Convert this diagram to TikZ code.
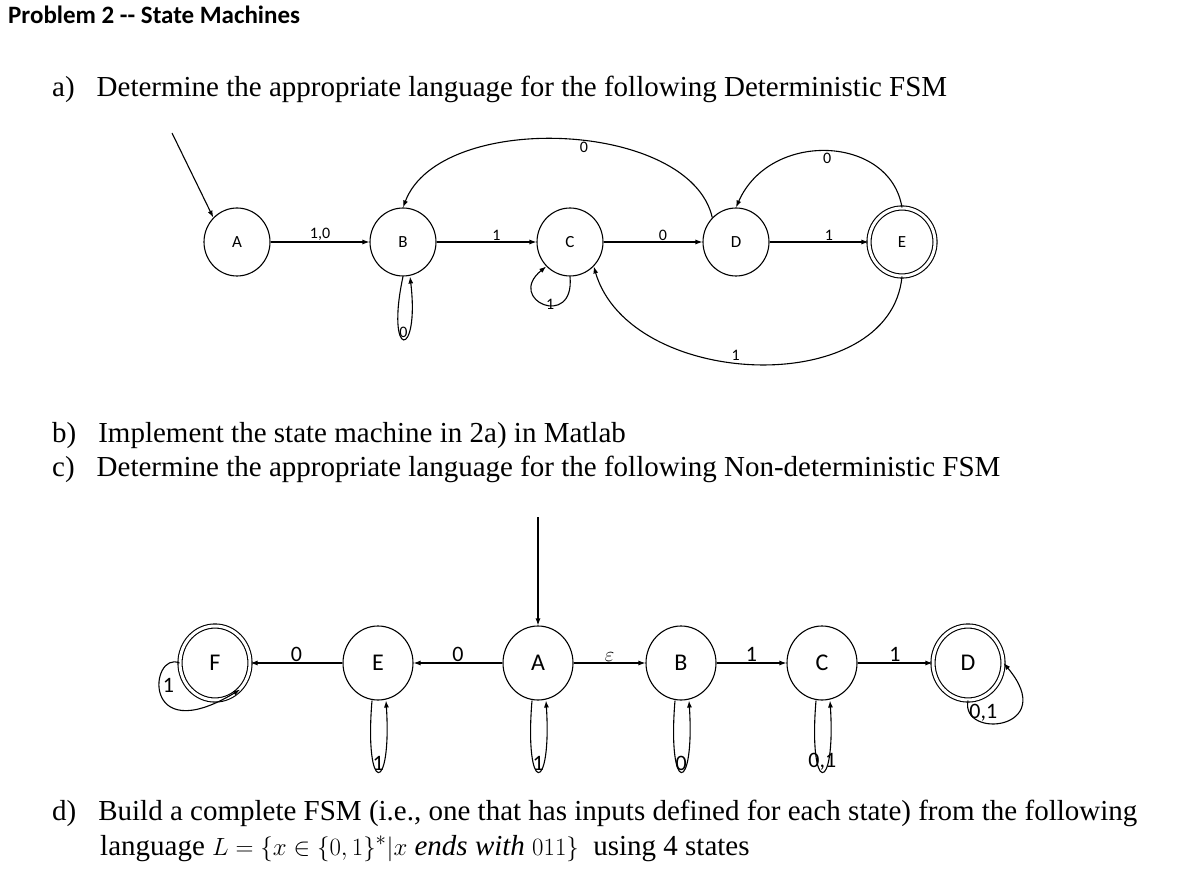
\documentclass[tikz,border=0pt]{standalone}
\usepackage{fontspec}
\setmainfont{Liberation Serif}
\newfontfamily\calfont{Carlito}
\usetikzlibrary{arrows.meta,shapes.geometric}
\begin{document}
\begin{tikzpicture}[x=1pt,y=-1pt,
  txt/.style={anchor=base west,inner sep=0,font=\fontsize{29}{32}\selectfont},
  st/.style={draw,ellipse,minimum width=66,minimum height=68,line width=1.1pt,inner sep=0,font=\calfont\fontsize{17}{18}\selectfont},
  st2/.style={draw,ellipse,minimum width=70,minimum height=74,line width=1.1pt,inner sep=0,font=\calfont\fontsize{24}{26}\selectfont},
  ed/.style={-{Latex[length=7pt,width=5pt]},line width=1.1pt},
  lb/.style={font=\calfont\fontsize{16}{18}\selectfont,inner sep=1pt},
  lb2/.style={font=\calfont\fontsize{22}{24}\selectfont,inner sep=1pt}]
\useasboundingbox (0,0) rectangle (1198,874);
\node[anchor=base west,inner sep=0,font=\calfont\bfseries\fontsize{25}{28}\selectfont] (t) at (8,24) {Problem 2 -- State Machines};
\node[txt] (ta) at (52,97) {a)\hspace{22pt}Determine the appropriate language for the following Deterministic FSM};
\node[txt] (tb) at (52,442) {b)\hspace{22pt}Implement the state machine in 2a) in Matlab};
\node[txt] (tc) at (52,476) {c)\hspace{22pt}Determine the appropriate language for the following Non-deterministic FSM};
\node[txt] (td) at (52,820) {d)\hspace{22pt}Build a complete FSM (i.e., one that has inputs defined for each state) from the following};
\node[txt] (te) at (100,855) {language $L=\{x\in\{0,1\}^*|x\ \mathit{ends\ with}\ 011\}$ \ using 4 states};
% top FSM
\node[st] (A) at (237,242) {A};
\node[st] (B) at (403,242) {B};
\node[st] (C) at (570,242) {C};
\node[st] (D) at (736,242) {D};
\node[st,double,double distance=3pt] (E) at (902,242) {E};
\coordinate (s1) at (172,133);
\draw[ed] (s1) -- (A.north west);
\draw[ed] (A) -- node[lb,above]{1,0} (B);
\draw[ed] (B) -- node[lb,above,pos=.6]{1} (C);
\draw[ed] (C) -- node[lb,above,pos=.6]{0} (D);
\draw[ed] (D) -- node[lb,above,pos=.6]{1} (E);
\draw[ed] (D.north west) .. controls (690,120) and (440,110) .. node[lb,pos=.45,below]{0} (B.north);
\draw[ed] (E.north) .. controls (890,135) and (770,130) .. node[lb,pos=.5,below]{0} (D.north);
\draw[ed] (E.south) .. controls (890,400) and (630,390) .. node[lb,pos=.55,above]{1} (C.south east);
\draw[ed] (B.south) .. controls (385,360) and (420,360) .. node[lb,pos=.5,above]{0} ([xshift=7pt]B.south);
\draw[ed] (C.south) .. controls (575,330) and (505,300) .. node[lb,pos=.5,right]{1} (C.south west);
% bottom FSM
\node[st2,double,double distance=3pt] (F2) at (215,663) {F};
\node[st2] (E2) at (378,663) {E};
\node[st2] (A2) at (538,663) {A};
\node[st2] (B2) at (681,663) {B};
\node[st2] (C2) at (822,663) {C};
\node[st2,double,double distance=3pt] (D2) at (968,663) {D};
\coordinate (s2) at (538,517);
\draw[ed] (s2) -- (A2);
\draw[ed] (E2) -- node[lb2,above]{0} (F2);
\draw[ed] (A2) -- node[lb2,above]{0} (E2);
\draw[ed] (A2) -- node[lb2,above]{$\varepsilon$} (B2);
\draw[ed] (B2) -- node[lb2,above]{1} (C2);
\draw[ed] (C2) -- node[lb2,above]{1} (D2);
\foreach \n/\l in {E2/1,A2/1,B2/0,C2/{0,1}}
  \draw[ed] ([xshift=-6pt]\n.south) .. controls ([xshift=-14pt,yshift=-95pt]\n.south) and ([xshift=14pt,yshift=-95pt]\n.south) .. node[lb2,pos=.5,above]{\l} ([xshift=8pt]\n.south);
\draw[ed] (F2.west) .. controls (150,650) and (140,750) .. node[lb2,pos=.5,above right]{1} (F2.south east);
\draw[ed] (D2.south) .. controls (960,740) and (1060,730) .. node[lb2,pos=.45,above left]{0,1} (D2.east);
\end{tikzpicture}
\end{document}
